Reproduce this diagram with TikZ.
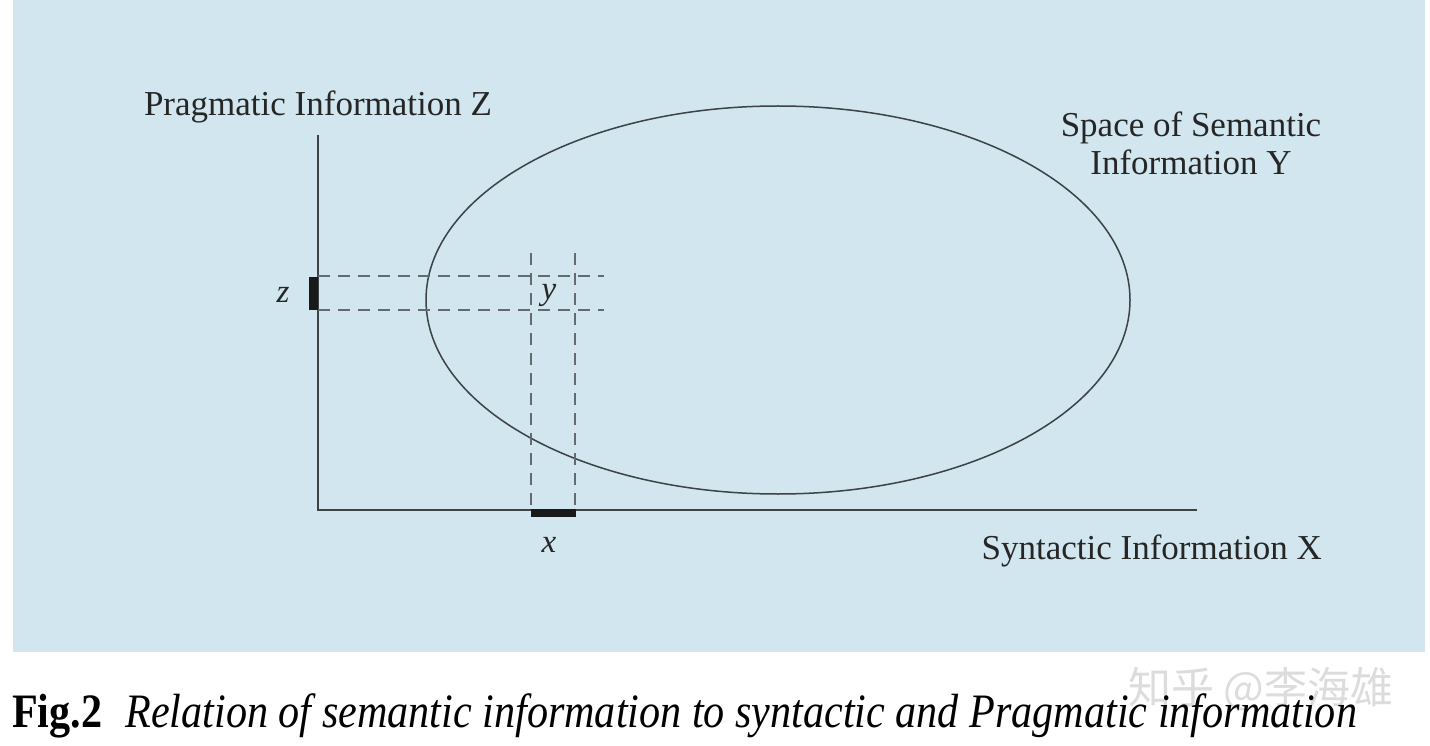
\documentclass[tikz,border=0pt]{standalone}
\usepackage{fontspec}
\setmainfont{Liberation Serif}
\newfontfamily\cjkfont{Noto Sans CJK SC}
\usetikzlibrary{shapes.geometric}
\definecolor{bgblue}{RGB}{209,230,238}
\definecolor{axisgray}{RGB}{60,66,70}
\definecolor{dashgray}{RGB}{100,107,111}
\definecolor{wmgray}{RGB}{220,220,220}
\tikzset{
  axisline/.style={draw=axisgray, line width=1.5pt},
  guide/.style={draw=dashgray, line width=1.5pt, dash pattern=on 12pt off 8pt},
  barmark/.style={fill=black!90, draw=none},
  lbl/.style={font=\fontsize{35}{38}\selectfont, text=black!85, inner sep=0pt},
  var/.style={font=\fontsize{33}{36}\selectfont\itshape, text=black!85, inner sep=0pt},
}
\begin{document}
\begin{tikzpicture}[x=1pt,y=-1pt]
\useasboundingbox (0,0) rectangle (1430,746);
\fill[bgblue] (13,0) rectangle (1425,652);
% axes
\coordinate (O) at (318,510);
\coordinate (ytop) at (318,135);
\coordinate (xend) at (1197,510);
\draw[axisline] (ytop) -- (O) -- (xend);
% ellipse
\node (sem) [draw=axisgray, line width=1.5pt, ellipse, minimum width=704pt, minimum height=388pt, inner sep=0pt] at (778,300) {};
% dashed guides
\coordinate (h1a) at (318,276); \coordinate (h1b) at (604,276);
\coordinate (h2a) at (318,310); \coordinate (h2b) at (604,310);
\coordinate (v1a) at (531,253); \coordinate (v1b) at (531,510);
\coordinate (v2a) at (575,253); \coordinate (v2b) at (575,510);
\draw[guide] (h1a) -- (h1b);
\draw[guide] (h2a) -- (h2b);
\draw[guide] (v1a) -- (v1b);
\draw[guide] (v2a) -- (v2b);
% bars
\fill[barmark] (309,277) rectangle (318,310);
\fill[barmark] (531,509) rectangle (576,517);
% labels
\node[var] (zl) at (283,295) {z};
\node[var] (yl) at (549,295) {y};
\node[var] (xl) at (549,545) {x};
\node[lbl, anchor=base] (zax) at (318,116) {Pragmatic Information Z};
\node[lbl, anchor=base] (yax1) at (1191,137) {Space of Semantic};
\node[lbl, anchor=base] (yax2) at (1191,175) {Information Y};
\node[lbl, anchor=base east] (xax) at (1322,559) {Syntactic Information X};
% watermark
\node[text=wmgray, font=\fontsize{43}{45}\cjkfont, inner sep=0pt, anchor=base west] (wm) at (1128,703) {知乎 @李海雄};
% caption
\node[inner sep=0pt, anchor=base west] (cap) at (12,727) {\scalebox{0.878}[1]{\fontsize{48}{52}\selectfont\textbf{Fig.2}\hspace{0.55em}\textit{Relation of semantic information to syntactic and Pragmatic information}}};
\end{tikzpicture}
\end{document}
